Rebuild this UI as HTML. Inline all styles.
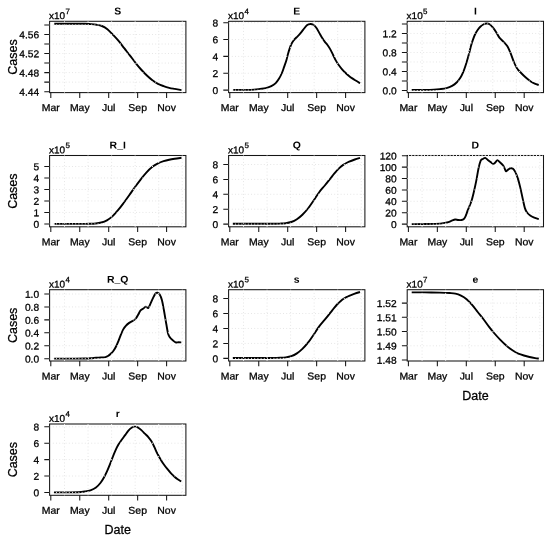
<!DOCTYPE html>
<html><head><meta charset="utf-8"><title>Cases by compartment</title>
<style>html,body{margin:0;padding:0;background:#fff}svg{display:block}text{stroke:#000;stroke-width:.28px}</style></head>
<body>
<svg width="550" height="537" viewBox="0 0 550 537" font-family='"Liberation Sans", sans-serif' fill="#000">
<rect width="550" height="537" fill="#fff"/>
<g transform="translate(49.6 21.3)">
<path d="M4.70 2.50C7.33 2.50 15.37 2.50 20.50 2.50C25.63 2.50 32.07 2.45 35.50 2.50C38.93 2.55 39.23 2.65 41.10 2.80C42.97 2.95 44.83 3.08 46.70 3.40C48.57 3.72 50.45 3.95 52.30 4.70C54.15 5.45 55.95 6.43 57.80 7.90C59.65 9.37 61.53 11.55 63.40 13.50C65.27 15.45 67.13 17.37 69.00 19.60C70.87 21.83 72.73 24.50 74.60 26.90C76.47 29.30 78.32 31.57 80.20 34.00C82.08 36.43 84.02 39.13 85.90 41.50C87.78 43.87 89.60 46.08 91.50 48.20C93.40 50.32 95.42 52.42 97.30 54.20C99.18 55.98 100.95 57.52 102.80 58.90C104.65 60.28 106.53 61.52 108.40 62.50C110.27 63.48 112.13 64.13 114.00 64.80C115.87 65.47 117.73 66.03 119.60 66.50C121.47 66.97 123.15 67.22 125.20 67.60C127.25 67.98 130.78 68.60 131.90 68.80" stroke="#000" stroke-width="1.9" fill="none" stroke-linejoin="round"/>
<rect x="0" y="0" width="136.3" height="71.3" fill="none" stroke="#151515" stroke-width="1.05"/>
<path d="M14.90 0V71.3M38.45 0V71.3M62.00 0V71.3M85.55 0V71.3M109.10 0V71.3M132.65 0V71.3M0 3.65H136.3M0 13.18H136.3M0 22.71H136.3M0 32.24H136.3M0 41.77H136.3M0 51.30H136.3M0 60.83H136.3" stroke="#e6e6e6" stroke-width="1" stroke-dasharray="1 2.2" fill="none"/>
<path d="M1.20 71.3v5.3M30.15 71.3v5.3M59.10 71.3v5.3M88.05 71.3v5.3M117.00 71.3v5.3M0 3.65h-5.3M0 13.18h-5.3M0 22.71h-5.3M0 32.24h-5.3M0 41.77h-5.3M0 51.30h-5.3M0 60.83h-5.3M0 70.36h-5.3" stroke="#151515" stroke-width="1.05" fill="none"/>
<text transform="translate(1.20 89.80) rotate(0.05) scale(1.045 1)" text-anchor="middle" font-size="10">Mar</text>
<text transform="translate(30.15 89.80) rotate(0.05) scale(1.045 1)" text-anchor="middle" font-size="10">May</text>
<text transform="translate(59.10 89.80) rotate(0.05) scale(1.045 1)" text-anchor="middle" font-size="10">Jul</text>
<text transform="translate(88.05 89.80) rotate(0.05) scale(1.045 1)" text-anchor="middle" font-size="10">Sep</text>
<text transform="translate(117.00 89.80) rotate(0.05) scale(1.045 1)" text-anchor="middle" font-size="10">Nov</text>
<text transform="translate(-10.50 16.98) rotate(0.05) scale(1.02 1)" text-anchor="end" font-size="10">4.56</text>
<text transform="translate(-10.50 36.04) rotate(0.05) scale(1.02 1)" text-anchor="end" font-size="10">4.52</text>
<text transform="translate(-10.50 55.10) rotate(0.05) scale(1.02 1)" text-anchor="end" font-size="10">4.48</text>
<text transform="translate(-10.50 74.16) rotate(0.05) scale(1.02 1)" text-anchor="end" font-size="10">4.44</text>
<text transform="translate(-0.60 -2.30) rotate(0.05) scale(1.03 1)" text-anchor="start" font-size="9.7">x10<tspan font-size="7.7" dy="-5.1" dx="0.4">7</tspan></text>
<text transform="translate(68.15 -6.90) rotate(0.05) scale(1.045 1)" text-anchor="middle" font-size="10" font-weight="bold" style="stroke-width:0">S</text>
<text transform="translate(-32.20 35.65) rotate(-90)" text-anchor="middle" font-size="12.5">Cases</text>
</g>
<g transform="translate(228.6 21.3)">
<path d="M4.70 68.60C6.67 68.59 13.03 68.60 16.50 68.55C19.97 68.50 23.00 68.46 25.50 68.30C28.00 68.14 29.57 67.85 31.50 67.60C33.43 67.35 35.23 67.25 37.10 66.80C38.97 66.35 41.03 65.73 42.70 64.90C44.37 64.07 45.80 63.07 47.10 61.80C48.40 60.53 49.47 58.98 50.50 57.30C51.53 55.62 52.47 53.65 53.30 51.70C54.13 49.75 54.75 47.73 55.50 45.60C56.25 43.47 57.15 41.05 57.80 38.90C58.45 36.75 58.85 34.67 59.40 32.70C59.95 30.73 60.53 28.77 61.10 27.10C61.67 25.43 62.15 24.02 62.80 22.70C63.45 21.38 64.17 20.28 65.00 19.20C65.83 18.12 66.78 17.25 67.80 16.20C68.82 15.15 69.95 14.22 71.10 12.90C72.25 11.58 73.50 9.78 74.70 8.30C75.90 6.82 77.15 4.93 78.30 4.00C79.45 3.07 80.50 2.78 81.60 2.70C82.70 2.62 83.88 2.87 84.90 3.50C85.92 4.13 86.77 5.20 87.70 6.50C88.63 7.80 89.57 9.67 90.50 11.30C91.43 12.93 92.37 14.80 93.30 16.30C94.23 17.80 95.17 19.07 96.10 20.30C97.03 21.53 97.97 22.40 98.90 23.70C99.83 25.00 100.77 26.43 101.70 28.10C102.63 29.77 103.57 31.83 104.50 33.70C105.43 35.57 106.37 37.63 107.30 39.30C108.23 40.97 109.07 42.25 110.10 43.70C111.13 45.15 112.38 46.70 113.50 48.00C114.62 49.30 115.70 50.43 116.80 51.50C117.90 52.57 118.95 53.47 120.10 54.40C121.25 55.33 122.47 56.25 123.70 57.10C124.93 57.95 126.21 58.70 127.50 59.50C128.79 60.30 130.79 61.50 131.45 61.90" stroke="#000" stroke-width="1.9" fill="none" stroke-linejoin="round"/>
<rect x="0" y="0" width="136.3" height="71.3" fill="none" stroke="#151515" stroke-width="1.05"/>
<path d="M14.90 0V71.3M38.45 0V71.3M62.00 0V71.3M85.55 0V71.3M109.10 0V71.3M132.65 0V71.3M0 1.40H136.3M0 18.25H136.3M0 35.10H136.3M0 51.95H136.3M0 68.80H136.3" stroke="#e6e6e6" stroke-width="1" stroke-dasharray="1 2.2" fill="none"/>
<path d="M1.20 71.3v5.3M30.15 71.3v5.3M59.10 71.3v5.3M88.05 71.3v5.3M117.00 71.3v5.3M0 1.40h-5.3M0 18.25h-5.3M0 35.10h-5.3M0 51.95h-5.3M0 68.80h-5.3" stroke="#151515" stroke-width="1.05" fill="none"/>
<text transform="translate(1.20 89.80) rotate(0.05) scale(1.045 1)" text-anchor="middle" font-size="10">Mar</text>
<text transform="translate(30.15 89.80) rotate(0.05) scale(1.045 1)" text-anchor="middle" font-size="10">May</text>
<text transform="translate(59.10 89.80) rotate(0.05) scale(1.045 1)" text-anchor="middle" font-size="10">Jul</text>
<text transform="translate(88.05 89.80) rotate(0.05) scale(1.045 1)" text-anchor="middle" font-size="10">Sep</text>
<text transform="translate(117.00 89.80) rotate(0.05) scale(1.045 1)" text-anchor="middle" font-size="10">Nov</text>
<text transform="translate(-10.50 5.20) rotate(0.05) scale(1.02 1)" text-anchor="end" font-size="10">8</text>
<text transform="translate(-10.50 22.05) rotate(0.05) scale(1.02 1)" text-anchor="end" font-size="10">6</text>
<text transform="translate(-10.50 38.90) rotate(0.05) scale(1.02 1)" text-anchor="end" font-size="10">4</text>
<text transform="translate(-10.50 55.75) rotate(0.05) scale(1.02 1)" text-anchor="end" font-size="10">2</text>
<text transform="translate(-10.50 72.60) rotate(0.05) scale(1.02 1)" text-anchor="end" font-size="10">0</text>
<text transform="translate(-0.60 -2.30) rotate(0.05) scale(1.03 1)" text-anchor="start" font-size="9.7">x10<tspan font-size="7.7" dy="-5.1" dx="0.4">4</tspan></text>
<text transform="translate(68.15 -6.90) rotate(0.05) scale(1.045 1)" text-anchor="middle" font-size="10" font-weight="bold" style="stroke-width:0">E</text>
</g>
<g transform="translate(407.2 21.3)">
<path d="M4.50 68.60C6.68 68.59 13.92 68.60 17.60 68.55C21.28 68.50 24.10 68.42 26.60 68.30C29.10 68.17 30.48 68.05 32.60 67.80C34.72 67.55 37.25 67.33 39.30 66.80C41.35 66.27 43.22 65.53 44.90 64.60C46.58 63.67 48.00 62.60 49.40 61.20C50.80 59.80 52.18 57.97 53.30 56.20C54.42 54.43 55.27 52.55 56.10 50.60C56.93 48.65 57.57 46.73 58.30 44.50C59.03 42.27 59.85 39.45 60.50 37.20C61.15 34.95 61.63 33.15 62.20 31.00C62.77 28.85 63.33 26.33 63.90 24.30C64.47 22.27 64.95 20.65 65.60 18.80C66.25 16.95 66.97 14.92 67.80 13.20C68.63 11.48 69.72 9.78 70.60 8.50C71.48 7.22 72.18 6.38 73.10 5.50C74.02 4.62 75.08 3.75 76.10 3.20C77.12 2.65 78.15 2.25 79.20 2.20C80.25 2.15 81.33 2.25 82.40 2.90C83.47 3.55 84.50 4.77 85.60 6.10C86.70 7.43 87.90 9.20 89.00 10.90C90.10 12.60 91.00 14.73 92.20 16.30C93.40 17.87 94.87 18.85 96.20 20.30C97.53 21.75 98.98 23.03 100.20 25.00C101.42 26.97 102.42 29.48 103.50 32.10C104.58 34.72 105.63 38.18 106.70 40.70C107.77 43.22 108.70 45.37 109.90 47.20C111.10 49.03 112.45 50.20 113.90 51.70C115.35 53.20 117.05 54.83 118.60 56.20C120.15 57.57 121.71 58.88 123.20 59.90C124.69 60.92 126.17 61.67 127.55 62.30C128.93 62.93 130.84 63.47 131.50 63.70" stroke="#000" stroke-width="1.9" fill="none" stroke-linejoin="round"/>
<rect x="0" y="0" width="136.3" height="71.3" fill="none" stroke="#151515" stroke-width="1.05"/>
<path d="M14.90 0V71.3M38.45 0V71.3M62.00 0V71.3M85.55 0V71.3M109.10 0V71.3M132.65 0V71.3M0 2.60H136.3M0 12.12H136.3M0 21.64H136.3M0 31.16H136.3M0 40.68H136.3M0 50.20H136.3M0 59.72H136.3M0 69.24H136.3" stroke="#e6e6e6" stroke-width="1" stroke-dasharray="1 2.2" fill="none"/>
<path d="M1.20 71.3v5.3M30.15 71.3v5.3M59.10 71.3v5.3M88.05 71.3v5.3M117.00 71.3v5.3M0 2.60h-5.3M0 12.12h-5.3M0 21.64h-5.3M0 31.16h-5.3M0 40.68h-5.3M0 50.20h-5.3M0 59.72h-5.3M0 69.24h-5.3" stroke="#151515" stroke-width="1.05" fill="none"/>
<text transform="translate(1.20 89.80) rotate(0.05) scale(1.045 1)" text-anchor="middle" font-size="10">Mar</text>
<text transform="translate(30.15 89.80) rotate(0.05) scale(1.045 1)" text-anchor="middle" font-size="10">May</text>
<text transform="translate(59.10 89.80) rotate(0.05) scale(1.045 1)" text-anchor="middle" font-size="10">Jul</text>
<text transform="translate(88.05 89.80) rotate(0.05) scale(1.045 1)" text-anchor="middle" font-size="10">Sep</text>
<text transform="translate(117.00 89.80) rotate(0.05) scale(1.045 1)" text-anchor="middle" font-size="10">Nov</text>
<text transform="translate(-10.50 15.92) rotate(0.05) scale(1.02 1)" text-anchor="end" font-size="10">1.2</text>
<text transform="translate(-10.50 34.96) rotate(0.05) scale(1.02 1)" text-anchor="end" font-size="10">0.8</text>
<text transform="translate(-10.50 54.00) rotate(0.05) scale(1.02 1)" text-anchor="end" font-size="10">0.4</text>
<text transform="translate(-10.50 73.04) rotate(0.05) scale(1.02 1)" text-anchor="end" font-size="10">0.0</text>
<text transform="translate(-0.60 -2.30) rotate(0.05) scale(1.03 1)" text-anchor="start" font-size="9.7">x10<tspan font-size="7.7" dy="-5.1" dx="0.4">5</tspan></text>
<text transform="translate(68.15 -6.90) rotate(0.05) scale(1.045 1)" text-anchor="middle" font-size="10" font-weight="bold" style="stroke-width:0">I</text>
</g>
<g transform="translate(49.6 155.5)">
<path d="M5.00 68.40C7.58 68.40 15.42 68.40 20.50 68.40C25.58 68.40 32.17 68.42 35.50 68.40C38.83 68.38 38.73 68.37 40.50 68.30C42.27 68.23 44.23 68.22 46.10 68.00C47.97 67.78 49.83 67.53 51.70 67.00C53.57 66.47 55.45 65.82 57.30 64.80C59.15 63.78 60.95 62.58 62.80 60.90C64.65 59.22 66.53 56.93 68.40 54.70C70.27 52.47 72.13 49.98 74.00 47.50C75.87 45.02 77.73 42.42 79.60 39.80C81.47 37.18 83.33 34.38 85.20 31.80C87.07 29.22 88.92 26.72 90.80 24.30C92.68 21.88 94.50 19.47 96.50 17.30C98.50 15.13 100.82 12.87 102.80 11.30C104.78 9.73 106.53 8.83 108.40 7.90C110.27 6.97 112.13 6.32 114.00 5.70C115.87 5.08 117.73 4.62 119.60 4.20C121.47 3.78 123.15 3.52 125.20 3.20C127.25 2.88 130.78 2.45 131.90 2.30" stroke="#000" stroke-width="1.9" fill="none" stroke-linejoin="round"/>
<rect x="0" y="0" width="136.3" height="71.3" fill="none" stroke="#151515" stroke-width="1.05"/>
<path d="M14.90 0V71.3M38.45 0V71.3M62.00 0V71.3M85.55 0V71.3M109.10 0V71.3M132.65 0V71.3M0 11.00H136.3M0 22.48H136.3M0 33.96H136.3M0 45.44H136.3M0 56.92H136.3M0 68.40H136.3" stroke="#e6e6e6" stroke-width="1" stroke-dasharray="1 2.2" fill="none"/>
<path d="M1.20 71.3v5.3M30.15 71.3v5.3M59.10 71.3v5.3M88.05 71.3v5.3M117.00 71.3v5.3M0 11.00h-5.3M0 22.48h-5.3M0 33.96h-5.3M0 45.44h-5.3M0 56.92h-5.3M0 68.40h-5.3" stroke="#151515" stroke-width="1.05" fill="none"/>
<text transform="translate(1.20 89.80) rotate(0.05) scale(1.045 1)" text-anchor="middle" font-size="10">Mar</text>
<text transform="translate(30.15 89.80) rotate(0.05) scale(1.045 1)" text-anchor="middle" font-size="10">May</text>
<text transform="translate(59.10 89.80) rotate(0.05) scale(1.045 1)" text-anchor="middle" font-size="10">Jul</text>
<text transform="translate(88.05 89.80) rotate(0.05) scale(1.045 1)" text-anchor="middle" font-size="10">Sep</text>
<text transform="translate(117.00 89.80) rotate(0.05) scale(1.045 1)" text-anchor="middle" font-size="10">Nov</text>
<text transform="translate(-10.50 14.80) rotate(0.05) scale(1.02 1)" text-anchor="end" font-size="10">5</text>
<text transform="translate(-10.50 26.28) rotate(0.05) scale(1.02 1)" text-anchor="end" font-size="10">4</text>
<text transform="translate(-10.50 37.76) rotate(0.05) scale(1.02 1)" text-anchor="end" font-size="10">3</text>
<text transform="translate(-10.50 49.24) rotate(0.05) scale(1.02 1)" text-anchor="end" font-size="10">2</text>
<text transform="translate(-10.50 60.72) rotate(0.05) scale(1.02 1)" text-anchor="end" font-size="10">1</text>
<text transform="translate(-10.50 72.20) rotate(0.05) scale(1.02 1)" text-anchor="end" font-size="10">0</text>
<text transform="translate(-0.60 -2.30) rotate(0.05) scale(1.03 1)" text-anchor="start" font-size="9.7">x10<tspan font-size="7.7" dy="-5.1" dx="0.4">5</tspan></text>
<text transform="translate(68.15 -6.90) rotate(0.05) scale(1.045 1)" text-anchor="middle" font-size="10" font-weight="bold" style="stroke-width:0">R_I</text>
<text transform="translate(-32.20 35.65) rotate(-90)" text-anchor="middle" font-size="12.5">Cases</text>
</g>
<g transform="translate(228.6 155.5)">
<path d="M4.20 68.30C7.08 68.30 15.62 68.30 21.50 68.30C27.38 68.30 35.33 68.32 39.50 68.30C43.67 68.28 44.50 68.23 46.50 68.20C48.50 68.17 49.73 68.18 51.50 68.10C53.27 68.02 55.23 67.97 57.10 67.70C58.97 67.43 60.83 67.17 62.70 66.50C64.57 65.83 66.45 64.92 68.30 63.70C70.15 62.48 71.95 60.98 73.80 59.20C75.65 57.42 77.53 55.37 79.40 53.00C81.27 50.63 83.13 47.72 85.00 45.00C86.87 42.28 88.73 39.20 90.60 36.70C92.47 34.20 94.33 32.28 96.20 30.00C98.07 27.72 100.23 24.97 101.80 23.00C103.37 21.03 104.33 19.73 105.60 18.20C106.87 16.67 108.30 14.97 109.40 13.80C110.50 12.63 111.27 11.98 112.20 11.20C113.13 10.42 114.07 9.72 115.00 9.10C115.93 8.48 116.87 7.98 117.80 7.50C118.73 7.02 119.20 6.78 120.60 6.20C122.00 5.62 124.40 4.65 126.20 4.00C128.00 3.35 130.53 2.58 131.40 2.30" stroke="#000" stroke-width="1.9" fill="none" stroke-linejoin="round"/>
<rect x="0" y="0" width="136.3" height="71.3" fill="none" stroke="#151515" stroke-width="1.05"/>
<path d="M14.90 0V71.3M38.45 0V71.3M62.00 0V71.3M85.55 0V71.3M109.10 0V71.3M132.65 0V71.3M0 9.00H136.3M0 23.90H136.3M0 38.80H136.3M0 53.70H136.3M0 68.60H136.3" stroke="#e6e6e6" stroke-width="1" stroke-dasharray="1 2.2" fill="none"/>
<path d="M1.20 71.3v5.3M30.15 71.3v5.3M59.10 71.3v5.3M88.05 71.3v5.3M117.00 71.3v5.3M0 9.00h-5.3M0 23.90h-5.3M0 38.80h-5.3M0 53.70h-5.3M0 68.60h-5.3" stroke="#151515" stroke-width="1.05" fill="none"/>
<text transform="translate(1.20 89.80) rotate(0.05) scale(1.045 1)" text-anchor="middle" font-size="10">Mar</text>
<text transform="translate(30.15 89.80) rotate(0.05) scale(1.045 1)" text-anchor="middle" font-size="10">May</text>
<text transform="translate(59.10 89.80) rotate(0.05) scale(1.045 1)" text-anchor="middle" font-size="10">Jul</text>
<text transform="translate(88.05 89.80) rotate(0.05) scale(1.045 1)" text-anchor="middle" font-size="10">Sep</text>
<text transform="translate(117.00 89.80) rotate(0.05) scale(1.045 1)" text-anchor="middle" font-size="10">Nov</text>
<text transform="translate(-10.50 12.80) rotate(0.05) scale(1.02 1)" text-anchor="end" font-size="10">8</text>
<text transform="translate(-10.50 27.70) rotate(0.05) scale(1.02 1)" text-anchor="end" font-size="10">6</text>
<text transform="translate(-10.50 42.60) rotate(0.05) scale(1.02 1)" text-anchor="end" font-size="10">4</text>
<text transform="translate(-10.50 57.50) rotate(0.05) scale(1.02 1)" text-anchor="end" font-size="10">2</text>
<text transform="translate(-10.50 72.40) rotate(0.05) scale(1.02 1)" text-anchor="end" font-size="10">0</text>
<text transform="translate(-0.60 -2.30) rotate(0.05) scale(1.03 1)" text-anchor="start" font-size="9.7">x10<tspan font-size="7.7" dy="-5.1" dx="0.4">5</tspan></text>
<text transform="translate(68.15 -6.90) rotate(0.05) scale(1.045 1)" text-anchor="middle" font-size="10" font-weight="bold" style="stroke-width:0">Q</text>
</g>
<g transform="translate(407.2 155.5)">
<path d="M4.50 68.60C6.68 68.58 12.83 68.58 17.60 68.50C22.37 68.42 29.42 68.35 33.10 68.10C36.78 67.85 37.78 67.48 39.70 67.00C41.62 66.52 43.23 65.70 44.60 65.20C45.97 64.70 46.82 64.12 47.90 64.00C48.98 63.88 50.02 64.42 51.10 64.50C52.18 64.58 53.48 64.67 54.40 64.50C55.32 64.33 55.95 64.12 56.60 63.50C57.25 62.88 57.60 62.35 58.30 60.80C59.00 59.25 59.83 56.67 60.80 54.20C61.77 51.73 63.15 48.87 64.10 46.00C65.05 43.13 65.68 40.40 66.50 37.00C67.32 33.60 68.18 29.68 69.00 25.60C69.82 21.52 70.65 15.92 71.40 12.50C72.15 9.08 72.82 6.60 73.50 5.10C74.18 3.60 74.75 3.95 75.50 3.50C76.25 3.05 77.18 2.27 78.00 2.40C78.82 2.53 79.45 3.57 80.40 4.30C81.35 5.03 82.75 6.12 83.70 6.80C84.65 7.48 85.33 8.40 86.10 8.40C86.87 8.40 87.62 7.43 88.30 6.80C88.98 6.17 89.47 4.60 90.20 4.60C90.93 4.60 91.73 5.90 92.70 6.80C93.67 7.70 95.18 8.92 96.00 10.00C96.82 11.08 97.12 12.33 97.60 13.30C98.08 14.27 98.35 15.67 98.90 15.80C99.45 15.93 100.17 14.60 100.90 14.10C101.63 13.60 102.48 12.93 103.30 12.80C104.12 12.67 104.98 12.67 105.80 13.30C106.62 13.93 107.38 14.97 108.20 16.60C109.02 18.23 109.88 20.52 110.70 23.10C111.52 25.68 112.28 28.68 113.10 32.10C113.92 35.52 114.83 40.18 115.60 43.60C116.37 47.02 117.02 50.42 117.70 52.60C118.38 54.78 118.82 55.47 119.70 56.70C120.58 57.93 121.77 59.10 123.00 60.00C124.23 60.90 125.67 61.50 127.10 62.10C128.53 62.70 130.85 63.35 131.60 63.60" stroke="#000" stroke-width="1.9" fill="none" stroke-linejoin="round"/>
<rect x="0" y="0" width="136.3" height="71.3" fill="none" stroke="#151515" stroke-width="1.05"/>
<path d="M14.90 0V71.3M38.45 0V71.3M62.00 0V71.3M85.55 0V71.3M109.10 0V71.3M132.65 0V71.3M0 11.60H136.3M0 23.00H136.3M0 34.40H136.3M0 45.80H136.3M0 57.20H136.3M0 68.60H136.3" stroke="#e6e6e6" stroke-width="1" stroke-dasharray="1 2.2" fill="none"/>
<path d="M0.8 0.1H135.70000000000002" stroke="#e9e9e9" stroke-width="1.3" stroke-dasharray="1 2.2" fill="none"/>
<path d="M1.20 71.3v5.3M30.15 71.3v5.3M59.10 71.3v5.3M88.05 71.3v5.3M117.00 71.3v5.3M0 0.20h-5.3M0 11.60h-5.3M0 23.00h-5.3M0 34.40h-5.3M0 45.80h-5.3M0 57.20h-5.3M0 68.60h-5.3" stroke="#151515" stroke-width="1.05" fill="none"/>
<text transform="translate(1.20 89.80) rotate(0.05) scale(1.045 1)" text-anchor="middle" font-size="10">Mar</text>
<text transform="translate(30.15 89.80) rotate(0.05) scale(1.045 1)" text-anchor="middle" font-size="10">May</text>
<text transform="translate(59.10 89.80) rotate(0.05) scale(1.045 1)" text-anchor="middle" font-size="10">Jul</text>
<text transform="translate(88.05 89.80) rotate(0.05) scale(1.045 1)" text-anchor="middle" font-size="10">Sep</text>
<text transform="translate(117.00 89.80) rotate(0.05) scale(1.045 1)" text-anchor="middle" font-size="10">Nov</text>
<text transform="translate(-10.50 4.00) rotate(0.05) scale(1.02 1)" text-anchor="end" font-size="10">120</text>
<text transform="translate(-10.50 15.40) rotate(0.05) scale(1.02 1)" text-anchor="end" font-size="10">100</text>
<text transform="translate(-10.50 26.80) rotate(0.05) scale(1.02 1)" text-anchor="end" font-size="10">80</text>
<text transform="translate(-10.50 38.20) rotate(0.05) scale(1.02 1)" text-anchor="end" font-size="10">60</text>
<text transform="translate(-10.50 49.60) rotate(0.05) scale(1.02 1)" text-anchor="end" font-size="10">40</text>
<text transform="translate(-10.50 61.00) rotate(0.05) scale(1.02 1)" text-anchor="end" font-size="10">20</text>
<text transform="translate(-10.50 72.40) rotate(0.05) scale(1.02 1)" text-anchor="end" font-size="10">0</text>
<text transform="translate(68.15 -6.90) rotate(0.05) scale(1.045 1)" text-anchor="middle" font-size="10" font-weight="bold" style="stroke-width:0">D</text>
</g>
<g transform="translate(49.6 289.7)">
<path d="M4.60 68.90C8.07 68.90 20.27 68.92 25.40 68.90C30.53 68.88 32.73 68.87 35.40 68.80C38.07 68.73 39.57 68.62 41.40 68.50C43.23 68.38 44.73 68.22 46.40 68.10C48.07 67.98 49.82 67.92 51.40 67.80C52.98 67.68 54.73 67.65 55.90 67.40C57.07 67.15 57.57 66.82 58.40 66.30C59.23 65.78 59.98 65.17 60.90 64.30C61.82 63.43 62.93 62.43 63.90 61.10C64.87 59.77 65.85 58.00 66.70 56.30C67.55 54.60 68.23 52.80 69.00 50.90C69.77 49.00 70.55 46.73 71.30 44.90C72.05 43.07 72.68 41.37 73.50 39.90C74.32 38.43 75.18 37.22 76.20 36.10C77.22 34.98 78.40 34.05 79.60 33.20C80.80 32.35 82.28 31.73 83.40 31.00C84.52 30.27 85.42 29.85 86.30 28.80C87.18 27.75 87.92 26.05 88.70 24.70C89.48 23.35 90.15 21.68 91.00 20.70C91.85 19.72 92.93 19.43 93.80 18.80C94.67 18.17 95.38 16.98 96.20 16.90C97.02 16.82 97.88 18.87 98.70 18.30C99.52 17.73 100.28 15.23 101.10 13.50C101.92 11.77 102.78 9.52 103.60 7.90C104.42 6.28 105.27 4.62 106.00 3.80C106.73 2.98 107.32 2.85 108.00 3.00C108.68 3.15 109.38 3.50 110.10 4.70C110.82 5.90 111.62 7.68 112.30 10.20C112.98 12.72 113.48 15.87 114.20 19.80C114.92 23.73 115.87 29.70 116.60 33.80C117.33 37.90 117.93 42.03 118.60 44.40C119.27 46.77 119.83 46.97 120.60 48.00C121.37 49.03 122.30 49.83 123.20 50.60C124.10 51.37 125.05 52.27 126.00 52.60C126.95 52.93 127.95 52.58 128.90 52.60C129.85 52.62 131.23 52.68 131.70 52.70" stroke="#000" stroke-width="1.9" fill="none" stroke-linejoin="round"/>
<rect x="0" y="0" width="136.3" height="71.3" fill="none" stroke="#151515" stroke-width="1.05"/>
<path d="M14.90 0V71.3M38.45 0V71.3M62.00 0V71.3M85.55 0V71.3M109.10 0V71.3M132.65 0V71.3M0 4.30H136.3M0 17.23H136.3M0 30.16H136.3M0 43.09H136.3M0 56.02H136.3M0 68.95H136.3" stroke="#e6e6e6" stroke-width="1" stroke-dasharray="1 2.2" fill="none"/>
<path d="M1.20 71.3v5.3M30.15 71.3v5.3M59.10 71.3v5.3M88.05 71.3v5.3M117.00 71.3v5.3M0 4.30h-5.3M0 17.23h-5.3M0 30.16h-5.3M0 43.09h-5.3M0 56.02h-5.3M0 68.95h-5.3" stroke="#151515" stroke-width="1.05" fill="none"/>
<text transform="translate(1.20 89.80) rotate(0.05) scale(1.045 1)" text-anchor="middle" font-size="10">Mar</text>
<text transform="translate(30.15 89.80) rotate(0.05) scale(1.045 1)" text-anchor="middle" font-size="10">May</text>
<text transform="translate(59.10 89.80) rotate(0.05) scale(1.045 1)" text-anchor="middle" font-size="10">Jul</text>
<text transform="translate(88.05 89.80) rotate(0.05) scale(1.045 1)" text-anchor="middle" font-size="10">Sep</text>
<text transform="translate(117.00 89.80) rotate(0.05) scale(1.045 1)" text-anchor="middle" font-size="10">Nov</text>
<text transform="translate(-10.50 8.10) rotate(0.05) scale(1.02 1)" text-anchor="end" font-size="10">1.0</text>
<text transform="translate(-10.50 21.03) rotate(0.05) scale(1.02 1)" text-anchor="end" font-size="10">0.8</text>
<text transform="translate(-10.50 33.96) rotate(0.05) scale(1.02 1)" text-anchor="end" font-size="10">0.6</text>
<text transform="translate(-10.50 46.89) rotate(0.05) scale(1.02 1)" text-anchor="end" font-size="10">0.4</text>
<text transform="translate(-10.50 59.82) rotate(0.05) scale(1.02 1)" text-anchor="end" font-size="10">0.2</text>
<text transform="translate(-10.50 72.75) rotate(0.05) scale(1.02 1)" text-anchor="end" font-size="10">0.0</text>
<text transform="translate(-0.60 -2.30) rotate(0.05) scale(1.03 1)" text-anchor="start" font-size="9.7">x10<tspan font-size="7.7" dy="-5.1" dx="0.4">4</tspan></text>
<text transform="translate(68.15 -6.90) rotate(0.05) scale(1.045 1)" text-anchor="middle" font-size="10" font-weight="bold" style="stroke-width:0">R_Q</text>
<text transform="translate(-32.20 35.65) rotate(-90)" text-anchor="middle" font-size="12.5">Cases</text>
</g>
<g transform="translate(228.6 289.7)">
<path d="M4.20 68.30C7.08 68.30 15.62 68.30 21.50 68.30C27.38 68.30 35.33 68.32 39.50 68.30C43.67 68.28 44.50 68.23 46.50 68.20C48.50 68.17 49.73 68.18 51.50 68.10C53.27 68.02 55.23 67.97 57.10 67.70C58.97 67.43 60.83 67.17 62.70 66.50C64.57 65.83 66.45 64.92 68.30 63.70C70.15 62.48 71.95 60.98 73.80 59.20C75.65 57.42 77.53 55.37 79.40 53.00C81.27 50.63 83.13 47.72 85.00 45.00C86.87 42.28 88.73 39.20 90.60 36.70C92.47 34.20 94.33 32.28 96.20 30.00C98.07 27.72 100.23 24.97 101.80 23.00C103.37 21.03 104.33 19.73 105.60 18.20C106.87 16.67 108.30 14.97 109.40 13.80C110.50 12.63 111.27 11.98 112.20 11.20C113.13 10.42 114.07 9.72 115.00 9.10C115.93 8.48 116.87 7.98 117.80 7.50C118.73 7.02 119.20 6.78 120.60 6.20C122.00 5.62 124.40 4.65 126.20 4.00C128.00 3.35 130.53 2.58 131.40 2.30" stroke="#000" stroke-width="1.9" fill="none" stroke-linejoin="round"/>
<rect x="0" y="0" width="136.3" height="71.3" fill="none" stroke="#151515" stroke-width="1.05"/>
<path d="M14.90 0V71.3M38.45 0V71.3M62.00 0V71.3M85.55 0V71.3M109.10 0V71.3M132.65 0V71.3M0 8.80H136.3M0 23.77H136.3M0 38.74H136.3M0 53.71H136.3M0 68.68H136.3" stroke="#e6e6e6" stroke-width="1" stroke-dasharray="1 2.2" fill="none"/>
<path d="M1.20 71.3v5.3M30.15 71.3v5.3M59.10 71.3v5.3M88.05 71.3v5.3M117.00 71.3v5.3M0 8.80h-5.3M0 23.77h-5.3M0 38.74h-5.3M0 53.71h-5.3M0 68.68h-5.3" stroke="#151515" stroke-width="1.05" fill="none"/>
<text transform="translate(1.20 89.80) rotate(0.05) scale(1.045 1)" text-anchor="middle" font-size="10">Mar</text>
<text transform="translate(30.15 89.80) rotate(0.05) scale(1.045 1)" text-anchor="middle" font-size="10">May</text>
<text transform="translate(59.10 89.80) rotate(0.05) scale(1.045 1)" text-anchor="middle" font-size="10">Jul</text>
<text transform="translate(88.05 89.80) rotate(0.05) scale(1.045 1)" text-anchor="middle" font-size="10">Sep</text>
<text transform="translate(117.00 89.80) rotate(0.05) scale(1.045 1)" text-anchor="middle" font-size="10">Nov</text>
<text transform="translate(-10.50 12.60) rotate(0.05) scale(1.02 1)" text-anchor="end" font-size="10">8</text>
<text transform="translate(-10.50 27.57) rotate(0.05) scale(1.02 1)" text-anchor="end" font-size="10">6</text>
<text transform="translate(-10.50 42.54) rotate(0.05) scale(1.02 1)" text-anchor="end" font-size="10">4</text>
<text transform="translate(-10.50 57.51) rotate(0.05) scale(1.02 1)" text-anchor="end" font-size="10">2</text>
<text transform="translate(-10.50 72.48) rotate(0.05) scale(1.02 1)" text-anchor="end" font-size="10">0</text>
<text transform="translate(-0.60 -2.30) rotate(0.05) scale(1.03 1)" text-anchor="start" font-size="9.7">x10<tspan font-size="7.7" dy="-5.1" dx="0.4">5</tspan></text>
<text transform="translate(68.15 -6.90) rotate(0.05) scale(1.045 1)" text-anchor="middle" font-size="10" font-weight="bold" style="stroke-width:0">s</text>
</g>
<g transform="translate(407.2 289.7)">
<path d="M4.50 2.70C6.68 2.70 12.92 2.67 17.60 2.70C22.28 2.73 28.43 2.80 32.60 2.90C36.77 3.00 40.00 3.13 42.60 3.30C45.20 3.47 46.33 3.47 48.20 3.90C50.07 4.33 51.93 4.97 53.80 5.90C55.67 6.83 57.55 7.97 59.40 9.50C61.25 11.03 63.05 12.97 64.90 15.10C66.75 17.23 68.63 19.93 70.50 22.30C72.37 24.67 74.23 26.87 76.10 29.30C77.97 31.73 79.83 34.48 81.70 36.90C83.57 39.32 85.43 41.63 87.30 43.80C89.17 45.97 91.03 47.98 92.90 49.90C94.77 51.82 96.80 53.77 98.50 55.30C100.20 56.83 101.58 57.97 103.10 59.10C104.62 60.23 106.27 61.30 107.60 62.10C108.93 62.90 109.58 63.28 111.10 63.90C112.62 64.52 114.83 65.23 116.70 65.80C118.57 66.37 120.43 66.87 122.30 67.30C124.17 67.73 126.35 68.13 127.90 68.40C129.45 68.67 130.98 68.82 131.60 68.90" stroke="#000" stroke-width="1.9" fill="none" stroke-linejoin="round"/>
<rect x="0" y="0" width="136.3" height="71.3" fill="none" stroke="#151515" stroke-width="1.05"/>
<path d="M14.90 0V71.3M38.45 0V71.3M62.00 0V71.3M85.55 0V71.3M109.10 0V71.3M132.65 0V71.3M0 13.40H136.3M0 27.64H136.3M0 41.88H136.3M0 56.12H136.3" stroke="#e6e6e6" stroke-width="1" stroke-dasharray="1 2.2" fill="none"/>
<path d="M1.20 71.3v5.3M30.15 71.3v5.3M59.10 71.3v5.3M88.05 71.3v5.3M117.00 71.3v5.3M0 13.40h-5.3M0 27.64h-5.3M0 41.88h-5.3M0 56.12h-5.3M0 70.36h-5.3" stroke="#151515" stroke-width="1.05" fill="none"/>
<text transform="translate(1.20 89.80) rotate(0.05) scale(1.045 1)" text-anchor="middle" font-size="10">Mar</text>
<text transform="translate(30.15 89.80) rotate(0.05) scale(1.045 1)" text-anchor="middle" font-size="10">May</text>
<text transform="translate(59.10 89.80) rotate(0.05) scale(1.045 1)" text-anchor="middle" font-size="10">Jul</text>
<text transform="translate(88.05 89.80) rotate(0.05) scale(1.045 1)" text-anchor="middle" font-size="10">Sep</text>
<text transform="translate(117.00 89.80) rotate(0.05) scale(1.045 1)" text-anchor="middle" font-size="10">Nov</text>
<text transform="translate(-10.50 17.20) rotate(0.05) scale(1.02 1)" text-anchor="end" font-size="10">1.52</text>
<text transform="translate(-10.50 31.44) rotate(0.05) scale(1.02 1)" text-anchor="end" font-size="10">1.51</text>
<text transform="translate(-10.50 45.68) rotate(0.05) scale(1.02 1)" text-anchor="end" font-size="10">1.50</text>
<text transform="translate(-10.50 59.92) rotate(0.05) scale(1.02 1)" text-anchor="end" font-size="10">1.49</text>
<text transform="translate(-10.50 74.16) rotate(0.05) scale(1.02 1)" text-anchor="end" font-size="10">1.48</text>
<text transform="translate(-0.60 -2.30) rotate(0.05) scale(1.03 1)" text-anchor="start" font-size="9.7">x10<tspan font-size="7.7" dy="-5.1" dx="0.4">7</tspan></text>
<text transform="translate(68.15 -6.90) rotate(0.05) scale(1.045 1)" text-anchor="middle" font-size="10" font-weight="bold" style="stroke-width:0">e</text>
<text x="68.2" y="110.2" text-anchor="middle" font-size="12.5">Date</text>
</g>
<g transform="translate(49.6 424.0)">
<path d="M4.40 68.40C6.70 68.39 14.23 68.38 18.20 68.35C22.17 68.32 25.37 68.34 28.20 68.20C31.03 68.06 33.10 67.82 35.20 67.50C37.30 67.18 38.93 66.97 40.80 66.30C42.67 65.63 44.73 64.72 46.40 63.50C48.07 62.28 49.50 60.62 50.80 59.00C52.10 57.38 53.08 55.78 54.20 53.80C55.32 51.82 56.48 49.33 57.50 47.10C58.52 44.87 59.37 42.73 60.30 40.40C61.23 38.07 62.17 35.43 63.10 33.10C64.03 30.77 64.97 28.45 65.90 26.40C66.83 24.35 67.67 22.57 68.70 20.80C69.73 19.03 71.00 17.37 72.10 15.80C73.20 14.23 74.22 12.88 75.30 11.40C76.38 9.92 77.50 8.18 78.60 6.90C79.70 5.62 80.78 4.42 81.90 3.70C83.02 2.98 84.18 2.62 85.30 2.60C86.42 2.58 87.48 2.97 88.60 3.60C89.72 4.23 90.88 5.38 92.00 6.40C93.12 7.42 94.18 8.58 95.30 9.70C96.42 10.82 97.58 11.78 98.70 13.10C99.82 14.42 100.98 15.93 102.00 17.60C103.02 19.27 103.87 21.15 104.80 23.10C105.73 25.05 106.57 27.25 107.60 29.30C108.63 31.35 109.88 33.53 111.00 35.40C112.12 37.27 113.18 38.92 114.30 40.50C115.42 42.08 116.58 43.52 117.70 44.90C118.82 46.28 119.88 47.58 121.00 48.80C122.12 50.02 123.28 51.17 124.40 52.20C125.52 53.23 126.50 54.12 127.70 55.00C128.90 55.88 130.95 57.08 131.60 57.50" stroke="#000" stroke-width="1.9" fill="none" stroke-linejoin="round"/>
<rect x="0" y="0" width="136.3" height="71.3" fill="none" stroke="#151515" stroke-width="1.05"/>
<path d="M14.90 0V71.3M38.45 0V71.3M62.00 0V71.3M85.55 0V71.3M109.10 0V71.3M132.65 0V71.3M0 2.80H136.3M0 19.20H136.3M0 35.60H136.3M0 52.00H136.3M0 68.40H136.3" stroke="#e6e6e6" stroke-width="1" stroke-dasharray="1 2.2" fill="none"/>
<path d="M1.20 71.3v5.3M30.15 71.3v5.3M59.10 71.3v5.3M88.05 71.3v5.3M117.00 71.3v5.3M0 2.80h-5.3M0 19.20h-5.3M0 35.60h-5.3M0 52.00h-5.3M0 68.40h-5.3" stroke="#151515" stroke-width="1.05" fill="none"/>
<text transform="translate(1.20 89.80) rotate(0.05) scale(1.045 1)" text-anchor="middle" font-size="10">Mar</text>
<text transform="translate(30.15 89.80) rotate(0.05) scale(1.045 1)" text-anchor="middle" font-size="10">May</text>
<text transform="translate(59.10 89.80) rotate(0.05) scale(1.045 1)" text-anchor="middle" font-size="10">Jul</text>
<text transform="translate(88.05 89.80) rotate(0.05) scale(1.045 1)" text-anchor="middle" font-size="10">Sep</text>
<text transform="translate(117.00 89.80) rotate(0.05) scale(1.045 1)" text-anchor="middle" font-size="10">Nov</text>
<text transform="translate(-10.50 6.60) rotate(0.05) scale(1.02 1)" text-anchor="end" font-size="10">8</text>
<text transform="translate(-10.50 23.00) rotate(0.05) scale(1.02 1)" text-anchor="end" font-size="10">6</text>
<text transform="translate(-10.50 39.40) rotate(0.05) scale(1.02 1)" text-anchor="end" font-size="10">4</text>
<text transform="translate(-10.50 55.80) rotate(0.05) scale(1.02 1)" text-anchor="end" font-size="10">2</text>
<text transform="translate(-10.50 72.20) rotate(0.05) scale(1.02 1)" text-anchor="end" font-size="10">0</text>
<text transform="translate(-0.60 -2.30) rotate(0.05) scale(1.03 1)" text-anchor="start" font-size="9.7">x10<tspan font-size="7.7" dy="-5.1" dx="0.4">4</tspan></text>
<text transform="translate(68.15 -6.90) rotate(0.05) scale(1.045 1)" text-anchor="middle" font-size="10" font-weight="bold" style="stroke-width:0">r</text>
<text transform="translate(-32.20 35.65) rotate(-90)" text-anchor="middle" font-size="12.5">Cases</text>
<text x="68.2" y="110.2" text-anchor="middle" font-size="12.5">Date</text>
</g>
</svg>
</body></html>
